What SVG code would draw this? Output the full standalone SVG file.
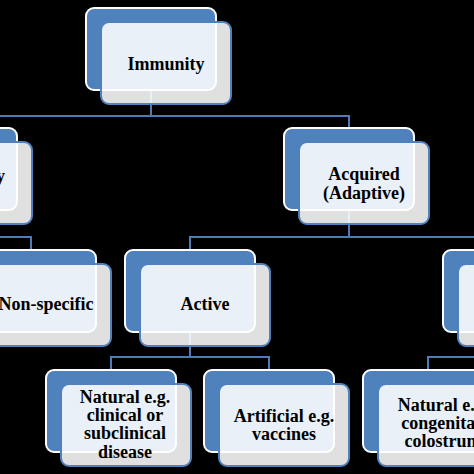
<svg xmlns="http://www.w3.org/2000/svg" width="474" height="474" viewBox="0 0 474 474">
<style>
.bg{fill:#000}
.back{fill:#4f81bd;stroke:#fff;stroke-width:2}
.front{fill:#fff;fill-opacity:0.88;stroke:#4f81bd;stroke-width:2}
.conn{fill:none;stroke:#4f7bb8;stroke-width:2}
text{font-family:"Liberation Serif","Times New Roman",serif;font-size:18px;font-weight:bold;fill:#000;text-anchor:middle}
</style>
<rect class="bg" x="0" y="0" width="474" height="474"/>
<g id="connectors">
<path class="conn" d="M151,90 V116 M-48,128 V116 H349 V128"/>
<path class="conn" d="M-48,210 V237 H31 V250"/>
<path class="conn" d="M349,210 V237 M190,250 V237 H508 V250"/>
<path class="conn" d="M190,332 V357 M111,370 V357 H269 V370"/>
<path class="conn" d="M508,332 V357 H428 V370"/>
</g>
<g id="immunity">
<rect class="back" x="86" y="8" width="130" height="82" rx="8"/>
<rect class="front" x="101" y="22" width="130" height="82" rx="8"/>
<text x="166" y="70">Immunity</text>
</g>
<g id="innate">
<rect class="back" x="-113" y="128" width="130" height="82" rx="8"/>
<rect class="front" x="-98" y="142" width="130" height="82" rx="8"/>
<text x="5" y="182" style="text-anchor:end">y</text>
</g>
<g id="acquired">
<rect class="back" x="284" y="128" width="130" height="82" rx="8"/>
<rect class="front" x="299" y="142" width="130" height="82" rx="8"/>
<text x="364" y="180">Acquired</text>
<text x="364" y="199">(Adaptive)</text>
</g>
<g id="nonspecific">
<rect class="back" x="-34" y="250" width="130" height="82" rx="8"/>
<rect class="front" x="-19" y="264" width="130" height="82" rx="8"/>
<text x="46" y="310">Non-specific</text>
</g>
<g id="active">
<rect class="back" x="125" y="250" width="130" height="82" rx="8"/>
<rect class="front" x="140" y="264" width="130" height="82" rx="8"/>
<text x="205" y="310">Active</text>
</g>
<g id="passive">
<rect class="back" x="443" y="250" width="130" height="82" rx="8"/>
<rect class="front" x="458" y="264" width="130" height="82" rx="8"/>
</g>
<g id="natural-active">
<rect class="back" x="46" y="370" width="130" height="82" rx="8"/>
<rect class="front" x="61" y="384" width="130" height="82" rx="8"/>
<text x="125" y="403">Natural e.g.</text>
<text x="125" y="421">clinical or</text>
<text x="125" y="439">subclinical</text>
<text x="125" y="458">disease</text>
</g>
<g id="artificial">
<rect class="back" x="204" y="370" width="130" height="82" rx="8"/>
<rect class="front" x="219" y="384" width="130" height="82" rx="8"/>
<text x="284" y="422">Artificial e.g.</text>
<text x="284" y="440">vaccines</text>
</g>
<g id="natural-passive">
<rect class="back" x="363" y="370" width="130" height="82" rx="8"/>
<rect class="front" x="378" y="384" width="130" height="82" rx="8"/>
<text x="443" y="411">Natural e.g.</text>
<text x="443" y="429">congenital,</text>
<text x="443" y="447">colostrum</text>
</g>
</svg>
